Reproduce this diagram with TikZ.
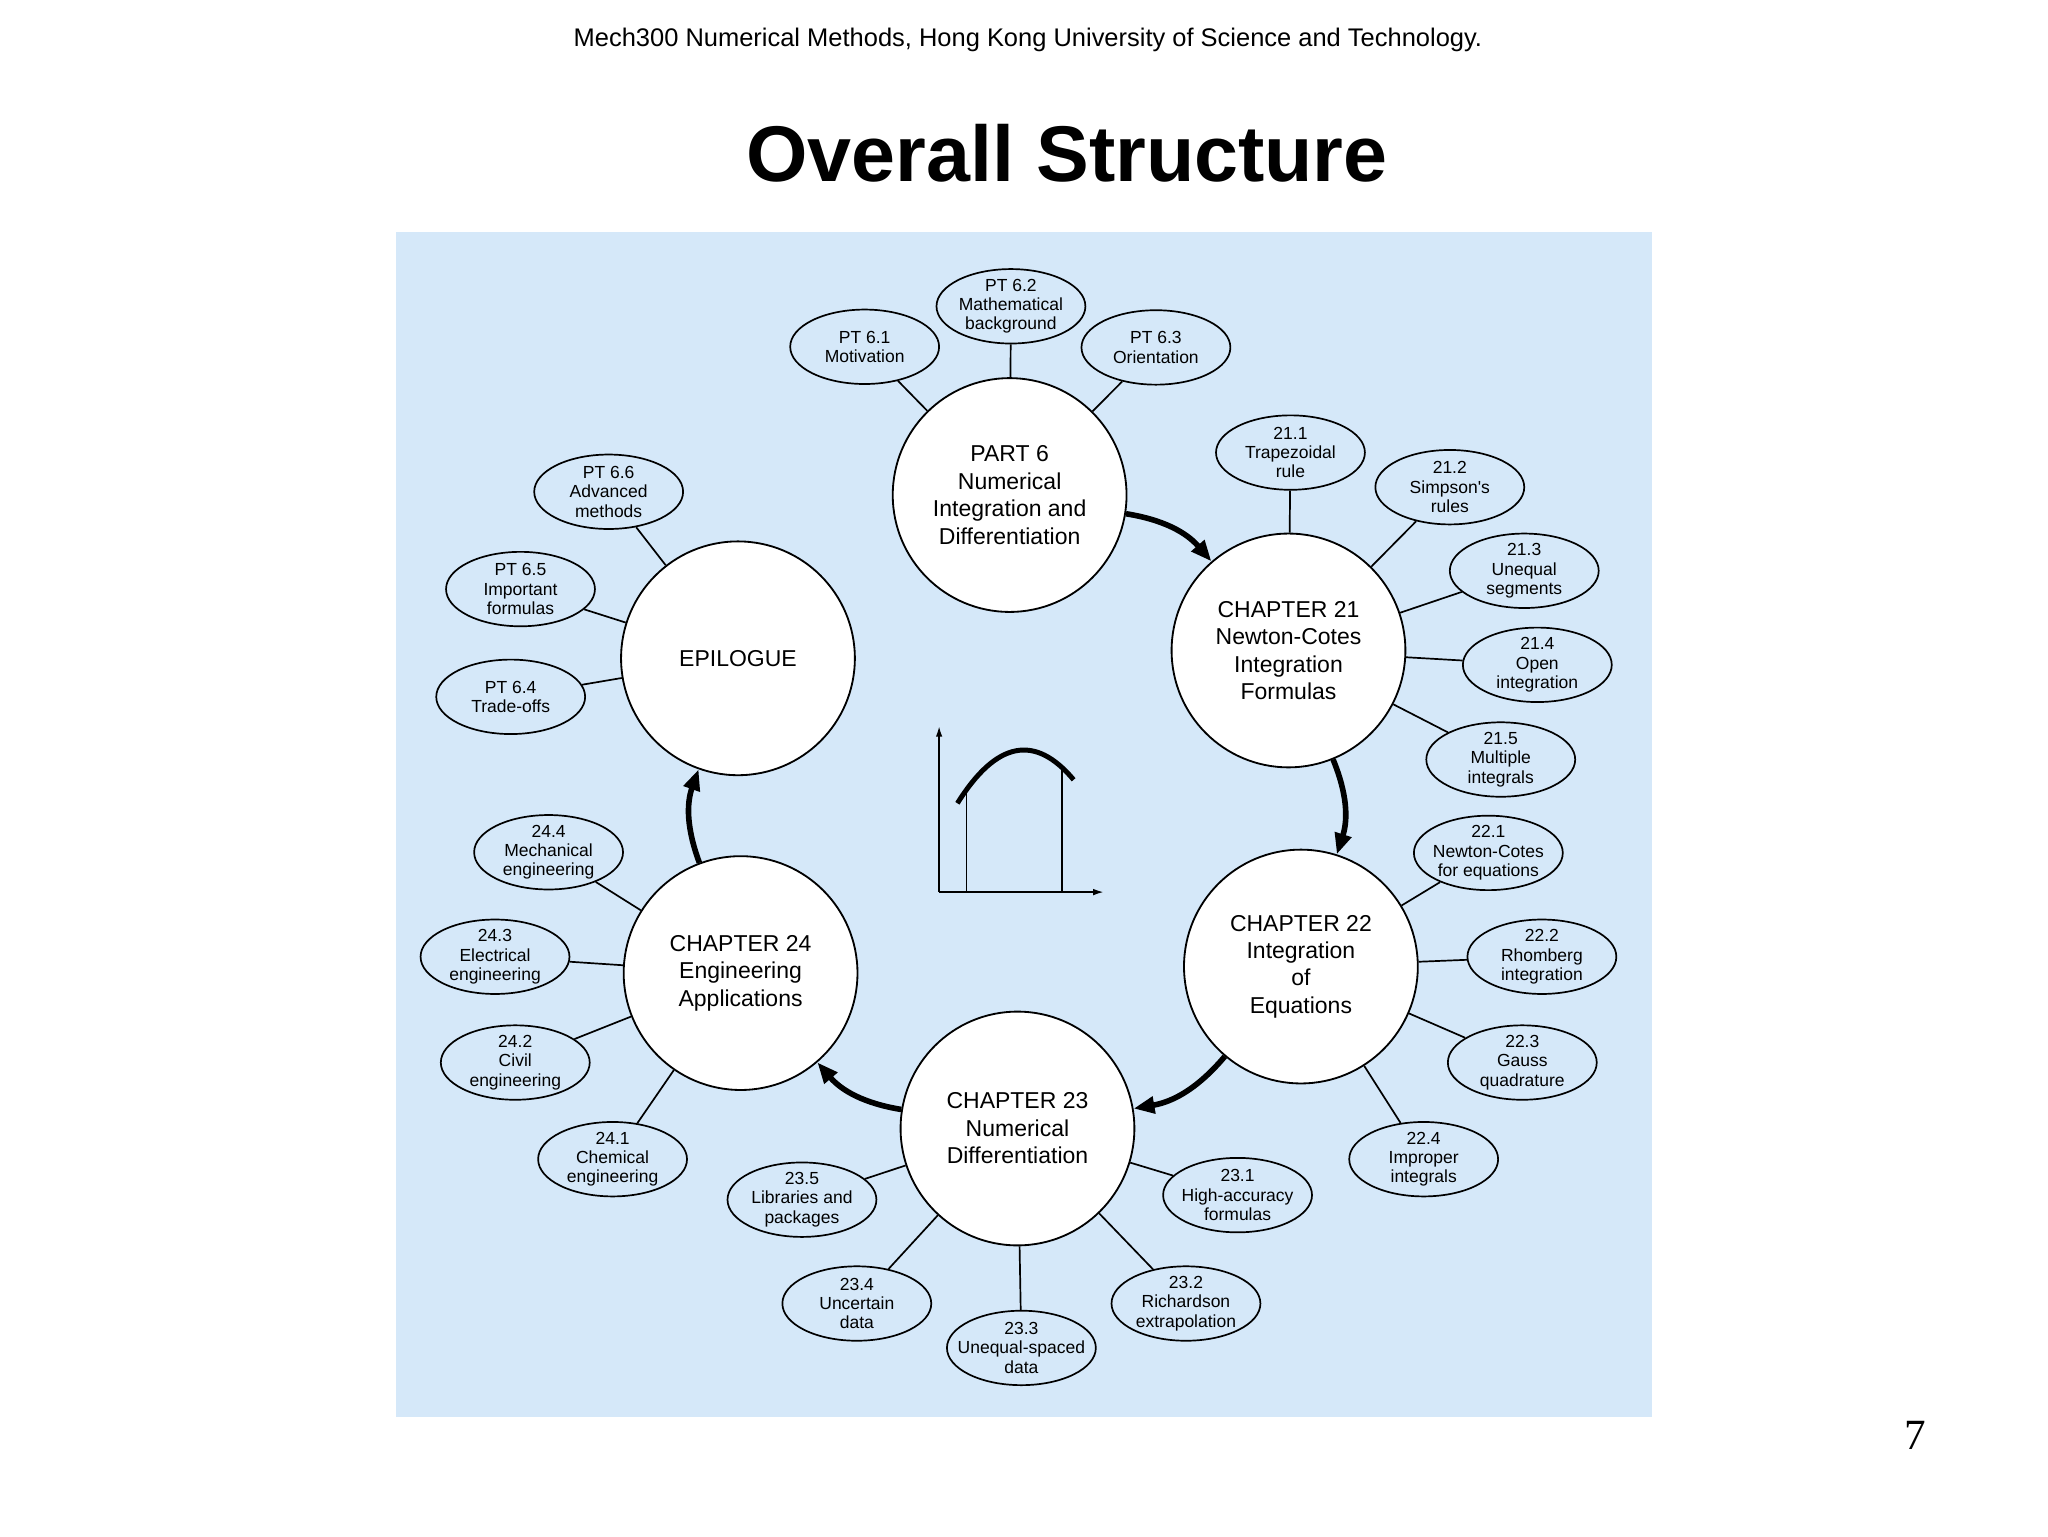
\documentclass[tikz,border=0pt]{standalone}
\usepackage{fontspec}
\newfontfamily\hsans{Liberation Sans}
\newfontfamily\hserif{Liberation Serif}
\usetikzlibrary{shapes.geometric,arrows.meta}
\definecolor{bgblue}{RGB}{213,232,249}
\begin{document}
\begin{tikzpicture}[x=1pt,y=-1pt,
 mainc/.style={circle, draw=black, fill=white, line width=1.4pt, minimum size=179pt, inner sep=0pt, align=center, font=\hsans\fontsize{17.6}{21}\selectfont},
 subell/.style={ellipse, draw=black, line width=1.3pt, minimum width=114pt, minimum height=57pt, inner sep=-40pt, align=center, font=\hsans\fontsize{13.4}{14.8}\selectfont},
 conn/.style={line width=1.3pt},
 flow/.style={line width=4.3pt, -{Triangle[length=16pt,width=12.5pt]}},
 axisline/.style={line width=1.2pt, -{Latex[length=8pt,width=5pt]}},
 thinline/.style={line width=1.1pt},
]
\useasboundingbox (0,0) rectangle (1568,1176);
\fill[white] (0,0) rectangle (1568,1176);
\fill[bgblue] (303,178) rectangle (1265,1085);

% header, title, page number
\node[font=\hsans\fontsize{19.5}{23}\selectfont] (hdr) at (787,30.5) {Mech300 Numerical Methods, Hong Kong University of Science and Technology.};
\node[font=\hsans\bfseries\fontsize{60.5}{70}\selectfont] (title) at (817,117) {Overall Structure};
\node[font=\hserif\fontsize{33}{40}\selectfont] (pg) at (1466,1099) {7};

% main circles
\node[mainc] (p6)  at (773,379)   {PART 6\\Numerical\\Integration and\\Differentiation};
\node[mainc] (c21) at (986.5,498) {CHAPTER 21\\Newton-Cotes\\Integration\\Formulas};
\node[mainc] (c22) at (996,740)   {CHAPTER 22\\Integration\\of\\Equations};
\node[mainc] (c23) at (779,864)   {CHAPTER 23\\Numerical\\Differentiation};
\node[mainc] (c24) at (567,745)   {CHAPTER 24\\Engineering\\Applications};
\node[mainc] (epi) at (565,504)   {EPILOGUE};

% sub-topic ellipses
\node[subell] (s61)  at (662,265.5)  {PT 6.1\\Motivation};
\node[subell] (s62)  at (774,234.5)  {PT 6.2\\Mathematical\\background};
\node[subell] (s63)  at (885,266)    {PT 6.3\\Orientation};
\node[subell] (s211) at (988,346.5)  {21.1\\Trapezoidal\\rule};
\node[subell] (s212) at (1110,373)   {21.2\\Simpson's\\rules};
\node[subell] (s213) at (1167,437)   {21.3\\Unequal\\segments};
\node[subell] (s214) at (1177,509)   {21.4\\Open\\integration};
\node[subell] (s215) at (1149,581.5) {21.5\\Multiple\\integrals};
\node[subell] (s221) at (1139.5,653) {22.1\\Newton-Cotes\\for equations};
\node[subell] (s222) at (1180.5,732.5) {22.2\\Rhomberg\\integration};
\node[subell] (s223) at (1165.5,813.5) {22.3\\Gauss\\quadrature};
\node[subell] (s224) at (1090,887.5) {22.4\\Improper\\integrals};
\node[subell] (s231) at (947.5,915)  {23.1\\High-accuracy\\formulas};
\node[subell] (s232) at (908,998)    {23.2\\Richardson\\extrapolation};
\node[subell] (s233) at (782,1032)   {23.3\\Unequal-spaced\\data};
\node[subell] (s234) at (656,998)    {23.4\\Uncertain\\data};
\node[subell] (s235) at (614,918.5)  {23.5\\Libraries and\\packages};
\node[subell] (s241) at (469,887.5)  {24.1\\Chemical\\engineering};
\node[subell] (s242) at (394.5,813.5) {24.2\\Civil\\engineering};
\node[subell] (s243) at (379,732.5)  {24.3\\Electrical\\engineering};
\node[subell] (s244) at (420,652.5)  {24.4\\Mechanical\\engineering};
\node[subell] (s64)  at (391,533.5)  {PT 6.4\\Trade-offs};
\node[subell] (s65)  at (398.5,451)  {PT 6.5\\Important\\formulas};
\node[subell] (s66)  at (466,376.5)  {PT 6.6\\Advanced\\methods};

% connectors
\foreach \s in {s61,s62,s63} \draw[conn] (\s) -- (p6);
\foreach \s in {s211,s212,s213,s214,s215} \draw[conn] (\s) -- (c21);
\foreach \s in {s221,s222,s223,s224} \draw[conn] (\s) -- (c22);
\foreach \s in {s231,s232,s233,s234,s235} \draw[conn] (\s) -- (c23);
\foreach \s in {s241,s242,s243,s244} \draw[conn] (\s) -- (c24);
\foreach \s in {s64,s65,s66} \draw[conn] (\s) -- (epi);

% flow arrows
\draw[flow] (p6)  to[bend left=20] (c21);
\draw[flow] (c21) to[bend left=20] (c22);
\draw[flow] (c22) to[bend left=20] (c23);
\draw[flow] (c23) to[bend left=20] (c24);
\draw[flow] (c24) to[bend left=20] (epi);

% central integral sketch
\coordinate (gO) at (719,683);
\coordinate (gY) at (719,556);
\coordinate (gX) at (845,683);
\coordinate (gA) at (740,604.6);
\coordinate (gA0) at (740,683);
\coordinate (gB) at (813,589.4);
\coordinate (gB0) at (813,683);
\draw[axisline] (gO) -- (gY);
\draw[axisline] (gO) -- (gX);
\draw[thinline] (gA) -- (gA0);
\draw[thinline] (gB) -- (gB0);
\draw[line width=3.8pt] (733,615) .. controls (762.7,567.5) and (792.3,561.5) .. (822,597);
\end{tikzpicture}
\end{document}
